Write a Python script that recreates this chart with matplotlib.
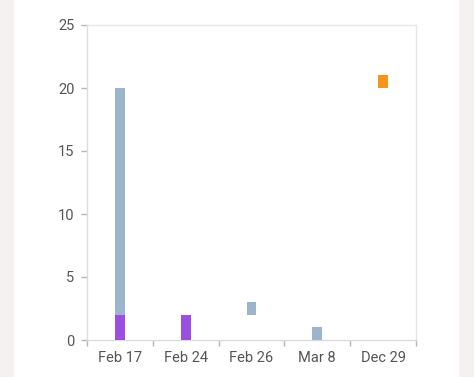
import numpy as np
import matplotlib.pyplot as plt
from matplotlib.patches import Rectangle

plt.rcParams['font.family'] = ['Roboto', 'DejaVu Sans']

# Data: floating bars given as (low, high) per category
categories = ["Feb 17", "Feb 24", "Feb 26", "Mar 8", "Dec 29"]
purple_low = [0, 0, np.nan, np.nan, np.nan]
purple_high = [2, 2, np.nan, np.nan, np.nan]
blue_low = [2, np.nan, 2, 0, np.nan]
blue_high = [20, np.nan, 3, 1, np.nan]
orange_low = [np.nan, np.nan, np.nan, np.nan, 20]
orange_high = [np.nan, np.nan, np.nan, np.nan, 21]
y_ticks = [0, 5, 10, 15, 20, 25]

BAR_W = 0.15
GRID_C = '#dcdcdc'
TEXT_C = '#555555'

fig = plt.figure(figsize=(4.74, 3.77), dpi=100)
fig.patch.set_facecolor('#f6f1f1')
# white card behind the chart
fig.patches.append(Rectangle((14 / 474, 0), 445 / 474, 1, transform=fig.transFigure,
                             facecolor='white', edgecolor='none', zorder=-5))

ax = fig.add_axes([87 / 474, 1 - 340 / 377, 329 / 474, 315 / 377])
ax.set_facecolor('white')

x = np.arange(len(categories))


def draw(lows, highs, color):
    lows = np.array(lows, dtype=float)
    highs = np.array(highs, dtype=float)
    ok = ~np.isnan(lows)
    ax.bar(x[ok], highs[ok] - lows[ok], bottom=lows[ok], width=BAR_W,
           color=color, linewidth=0, zorder=3)


draw(blue_low, blue_high, '#9cb4cc')
draw(purple_low, purple_high, '#9b4fe0')
draw(orange_low, orange_high, '#f7941d')

ax.set_xlim(-0.5, len(categories) - 0.5)
ax.set_ylim(0, 25)
ax.set_yticks(y_ticks)
ax.set_yticklabels([str(v) for v in y_ticks])

# tick marks on category boundaries, labels at centres
ax.set_xticks(np.arange(len(categories) + 1) - 0.5)
ax.set_xticklabels([])
ax.set_xticks(x, minor=True)
ax.set_xticklabels(categories, minor=True)
ax.tick_params(axis='x', which='major', length=4, color='#b5b5b5', width=1)
ax.tick_params(axis='x', which='minor', length=0, pad=8, labelsize=10.5, labelcolor=TEXT_C)
ax.tick_params(axis='y', length=4, color='#b5b5b5', width=1, pad=5,
               labelsize=10.5, labelcolor=TEXT_C)

for side in ['top', 'right']:
    ax.spines[side].set_color('#e6e6e6')
for side in ['left', 'bottom']:
    ax.spines[side].set_color(GRID_C)
for s in ax.spines.values():
    s.set_linewidth(1)

fig.savefig('out.png', dpi=100, facecolor=fig.get_facecolor())
